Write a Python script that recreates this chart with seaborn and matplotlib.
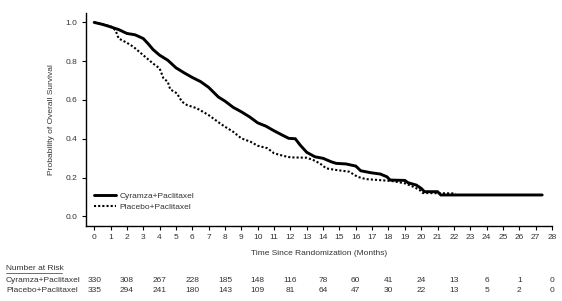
import matplotlib
matplotlib.use("Agg")
import matplotlib.pyplot as plt
import seaborn as sns
import numpy as np
import pandas as pd
from matplotlib.lines import Line2D

# ---- data ----
cyr_time = [0, 0.5, 1.0, 1.5, 2.0, 2.5, 3.0, 3.3, 3.6, 4.0, 4.5, 5.0, 5.5, 6.0, 6.5, 7.0,
            7.3, 7.6, 8.0, 8.5, 9.0, 9.5, 10.0, 10.5, 11.0, 11.5, 11.9, 12.3, 12.6, 13.0,
            13.5, 14.0, 14.5, 14.8, 15.4, 16.0, 16.3, 16.9, 17.5, 17.9, 18.1, 19.0, 19.2,
            19.7, 20.0, 20.2, 21.0, 21.2, 27.4]
cyr_surv = [1.0, 0.99, 0.977, 0.963, 0.943, 0.936, 0.917, 0.89, 0.86, 0.831, 0.805, 0.766,
            0.740, 0.716, 0.695, 0.665, 0.64, 0.615, 0.594, 0.562, 0.539, 0.513, 0.482,
            0.465, 0.441, 0.419, 0.402, 0.40, 0.367, 0.330, 0.307, 0.299, 0.281, 0.273,
            0.27, 0.259, 0.235, 0.225, 0.218, 0.204, 0.187, 0.185, 0.173, 0.161, 0.144,
            0.127, 0.127, 0.11, 0.11]

pla_time = [0, 0.5, 1.0, 1.3, 1.5, 2.0, 2.4, 3.0, 3.6, 4.0, 4.24, 4.5, 4.65, 5.06, 5.37,
            5.67, 6.28, 7.0, 7.7, 8.0, 8.5, 9.0, 9.55, 10.0, 10.6, 11.0, 11.6, 12.0, 13.0,
            13.4, 13.8, 14.2, 14.8, 15.6, 16.1, 16.6, 17.4, 18.2, 19.0, 19.5, 19.9, 20.1,
            22.1]
pla_surv = [1.0, 0.99, 0.98, 0.96, 0.917, 0.895, 0.874, 0.831, 0.788, 0.763, 0.711, 0.694,
            0.655, 0.634, 0.591, 0.574, 0.557, 0.522, 0.479, 0.462, 0.436, 0.402, 0.385,
            0.364, 0.351, 0.325, 0.311, 0.304, 0.302, 0.290, 0.273, 0.247, 0.239, 0.230,
            0.204, 0.192, 0.187, 0.182, 0.170, 0.153, 0.136, 0.12, 0.118]

risk_months = [0, 2, 4, 6, 8, 10, 12, 14, 16, 18, 20, 22, 24, 26, 28]
risk_cyr = [330, 308, 267, 228, 185, 148, 116, 78, 60, 41, 24, 13, 6, 1, 0]
risk_pla = [335, 294, 241, 180, 143, 109, 81, 64, 47, 30, 22, 13, 5, 2, 0]

labels = ["Cyramza+Paclitaxel", "Placebo+Paclitaxel"]
x_ticks = list(range(0, 29))
y_ticks = [0.0, 0.2, 0.4, 0.6, 0.8, 1.0]

# ---- style ----
sns.set_theme(style="ticks")
plt.rcParams["font.family"] = ["Liberation Sans", "DejaVu Sans"]
TXT = "#333333"
FS = 6

fig = plt.figure(figsize=(5.62, 3.01), dpi=100)
W, H = 562, 301
ax = fig.add_axes([86 / W, 1 - 226 / H, (552 - 86) / W, (226 - 12.7) / H])

df_c = pd.DataFrame({"t": cyr_time, "s": cyr_surv})
df_p = pd.DataFrame({"t": pla_time, "s": pla_surv})
sns.lineplot(data=df_c, x="t", y="s", ax=ax, color="black", linewidth=2.1,
             estimator=None, sort=False, solid_joinstyle="miter")
sns.lineplot(data=df_p, x="t", y="s", ax=ax, color="black", linewidth=1.5,
             estimator=None, sort=False, dashes=False, linestyle=(0, (1, 1)))

ax.set_xlim(-0.5, 28)
ax.set_ylim(-0.05, 1.05)
ax.set_xticks(x_ticks)
ax.set_xticklabels([str(v) for v in x_ticks])
ax.set_yticks(y_ticks)
ax.set_yticklabels([f"{v:.1f}" for v in y_ticks])
ax.tick_params(axis="both", labelsize=FS, length=3, width=0.8, colors="black",
               labelcolor=TXT, pad=3)
for s in ["left", "bottom"]:
    ax.spines[s].set_linewidth(1.0)
    ax.spines[s].set_color("black")
sns.despine(ax=ax)

ax.set_xlabel("Time Since Randomization (Months)", fontsize=FS, color=TXT, labelpad=6)
ax.set_ylabel("Probability of Overall Survival", fontsize=FS, color=TXT, labelpad=8)

handles = [Line2D([], [], color="black", linewidth=2.1),
           Line2D([], [], color="black", linewidth=1.5, linestyle=(0, (1, 1)))]
ax.legend(handles, labels, loc="lower left", bbox_to_anchor=(0.01, 0.055),
          frameon=False, fontsize=FS, handlelength=2.6, handletextpad=0.5,
          labelspacing=0.35, borderaxespad=0.0, labelcolor=TXT)

# ---- number at risk ----
fig.text(6 / W, 1 - 268 / H, "Number at Risk", fontsize=FS, color=TXT,
         va="center", ha="left")
fig.add_artist(Line2D([6 / W, 62 / W], [1 - 273 / H, 1 - 273 / H],
                      color=TXT, linewidth=0.5))
row_y = [1 - 280 / H, 1 - 290 / H]
for yy, lab, vals in zip(row_y, labels, [risk_cyr, risk_pla]):
    fig.text(6 / W, yy, lab, fontsize=FS, color=TXT, va="center", ha="left")
    for m, v in zip(risk_months, vals):
        xf = fig.transFigure.inverted().transform(ax.transData.transform((m, 0)))[0]
        fig.text(xf, yy, str(v), fontsize=FS, color=TXT, va="center", ha="center")

fig.savefig("out.png", dpi=100)
